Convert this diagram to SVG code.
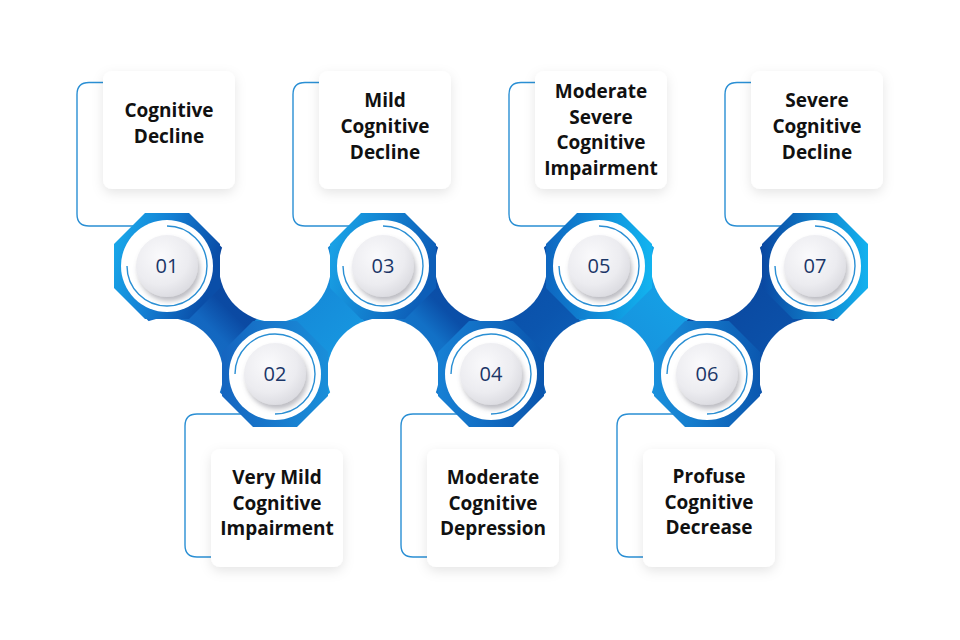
<svg xmlns="http://www.w3.org/2000/svg" xmlns:xlink="http://www.w3.org/1999/xlink" width="960" height="640" viewBox="0 0 960 640">
<defs>
<style>
.box{fill:#fff;filter:url(#bsh)}
.lbl{font-family:"Open Sans","Liberation Sans",sans-serif;font-weight:700;font-size:19px;fill:#111;text-anchor:middle}
.num{font-family:"Open Sans","Liberation Sans",sans-serif;font-weight:400;font-size:20px;fill:#1b3667;text-anchor:middle}
.ring{fill:#fff}
.btn{fill:url(#gBtn);filter:url(#btnsh)}
.con{fill:none;stroke:#2a8fd4;stroke-width:1.4}
.cut{fill:#fff}
</style>
<filter id="bsh" x="-30%" y="-30%" width="160%" height="160%">
<feDropShadow dx="0" dy="4" stdDeviation="6" flood-color="#000" flood-opacity="0.10"/>
</filter>
<filter id="btnsh" x="-40%" y="-40%" width="180%" height="180%">
<feDropShadow dx="2" dy="4" stdDeviation="2.5" flood-color="#6b6b78" flood-opacity="0.45"/>
</filter>
<radialGradient id="gBtn" cx="0.4" cy="0.35" r="0.75">
<stop offset="0" stop-color="#fafafc"/>
<stop offset="0.6" stop-color="#ececf0"/>
<stop offset="1" stop-color="#d6d6dc"/>
</radialGradient>
<polygon id="oct" points="-22,-53 22,-53 53,-22 53,22 22,53 -22,53 -53,22 -53,-22"/>
<polygon id="segD" points="36.77,-36.77 144.77,71.23 71.23,144.77 -36.77,36.77"/>
<polygon id="segU" points="36.77,36.77 144.77,-71.23 71.23,-144.77 -36.77,-36.77"/>
<!-- octagon gradients -->
<linearGradient id="o1" x1="0" y1="0" x2="1" y2="0.3"><stop offset="0" stop-color="#19aeed"/><stop offset="0.5" stop-color="#1480d4"/><stop offset="1" stop-color="#0a4ea8"/></linearGradient>
<linearGradient id="o2" x1="0" y1="0" x2="1" y2="0"><stop offset="0" stop-color="#1565c0"/><stop offset="1" stop-color="#1a8ed9"/></linearGradient>
<linearGradient id="o3" x1="0" y1="0" x2="1" y2="0.3"><stop offset="0" stop-color="#1aa8ea"/><stop offset="1" stop-color="#0d5eb8"/></linearGradient>
<linearGradient id="o4" x1="0" y1="0" x2="1" y2="0"><stop offset="0" stop-color="#1780d4"/><stop offset="1" stop-color="#0a55ad"/></linearGradient>
<linearGradient id="o5" x1="0" y1="0" x2="1" y2="0"><stop offset="0" stop-color="#0e66c0"/><stop offset="1" stop-color="#12b4f0"/></linearGradient>
<linearGradient id="o6" x1="0" y1="0" x2="1" y2="0"><stop offset="0" stop-color="#1a90dc"/><stop offset="1" stop-color="#0b58b0"/></linearGradient>
<linearGradient id="o7" x1="0" y1="0" x2="1" y2="0"><stop offset="0" stop-color="#0a48a2"/><stop offset="1" stop-color="#14b2ef"/></linearGradient>
<!-- segment gradients -->
<linearGradient id="s1" x1="0" y1="1" x2="1" y2="0"><stop offset="0" stop-color="#1a7ad0"/><stop offset="0.45" stop-color="#1367c0"/><stop offset="0.55" stop-color="#0b4aa3"/><stop offset="1" stop-color="#083e93"/></linearGradient>
<linearGradient id="s2" x1="0" y1="0" x2="1" y2="1"><stop offset="0" stop-color="#1478cc"/><stop offset="0.5" stop-color="#1690dc"/><stop offset="1" stop-color="#1aa8ea"/></linearGradient>
<linearGradient id="s3" x1="0" y1="1" x2="1" y2="0"><stop offset="0" stop-color="#1a8ad8"/><stop offset="0.45" stop-color="#1270c6"/><stop offset="0.55" stop-color="#0b4fa8"/><stop offset="1" stop-color="#0a469f"/></linearGradient>
<linearGradient id="s4" x1="0" y1="0" x2="1" y2="1"><stop offset="0" stop-color="#0a47a0"/><stop offset="0.5" stop-color="#0b55ae"/><stop offset="1" stop-color="#1272c8"/></linearGradient>
<linearGradient id="s5" x1="0" y1="1" x2="1" y2="0"><stop offset="0" stop-color="#1a82d4"/><stop offset="0.5" stop-color="#169ae2"/><stop offset="1" stop-color="#12b2ef"/></linearGradient>
<linearGradient id="s6" x1="0" y1="0" x2="1" y2="1"><stop offset="0" stop-color="#0a3f96"/><stop offset="1" stop-color="#0c5cb5"/></linearGradient>
</defs>

<rect width="960" height="640" fill="#fff"/>

<!-- chain band -->
<g id="band">
<use xlink:href="#segD" transform="translate(167,266)" fill="url(#s1)"/>
<use xlink:href="#segU" transform="translate(275,374)" fill="url(#s2)"/>
<use xlink:href="#segD" transform="translate(383,266)" fill="url(#s3)"/>
<use xlink:href="#segU" transform="translate(491,374)" fill="url(#s4)"/>
<use xlink:href="#segD" transform="translate(599,266)" fill="url(#s5)"/>
<use xlink:href="#segU" transform="translate(707,374)" fill="url(#s6)"/>
<circle class="cut" cx="275" cy="266" r="56"/>
<circle class="cut" cx="491" cy="266" r="56"/>
<circle class="cut" cx="707" cy="266" r="56"/>
<circle class="cut" cx="167" cy="374" r="56"/>
<circle class="cut" cx="383" cy="374" r="56"/>
<circle class="cut" cx="599" cy="374" r="56"/>
<circle class="cut" cx="815" cy="374" r="56"/>
</g>

<!-- connectors -->
<g id="connectors">
<path class="con" d="M103,82.5 H89 Q77,82.5 77,94.5 V214 Q77,226 89,226 H167 A40,40 0 1 1 127,266"/>
<path class="con" d="M319,82.5 H305 Q293,82.5 293,94.5 V214 Q293,226 305,226 H383 A40,40 0 1 1 343,266"/>
<path class="con" d="M535,82.5 H521 Q509,82.5 509,94.5 V214 Q509,226 521,226 H599 A40,40 0 1 1 559,266"/>
<path class="con" d="M751,82.5 H737 Q725,82.5 725,94.5 V214 Q725,226 737,226 H815 A40,40 0 1 1 775,266"/>
<path class="con" d="M235,374 A40,40 0 1 1 275,414 H197 Q185,414 185,426 V545 Q185,557 197,557 H211"/>
<path class="con" d="M451,374 A40,40 0 1 1 491,414 H413 Q401,414 401,426 V545 Q401,557 413,557 H427"/>
<path class="con" d="M667,374 A40,40 0 1 1 707,414 H629 Q617,414 617,426 V545 Q617,557 629,557 H643"/>
</g>

<!-- nodes -->
<g id="n01">
<use xlink:href="#oct" x="167" y="266" fill="url(#o1)"/>
<circle class="ring" cx="167" cy="266" r="46"/>
<path class="con" d="M167,226 A40,40 0 1 1 127,266"/>
<circle class="btn" cx="167" cy="266" r="31"/>
<text class="num" x="167" y="273">01</text>
<rect class="box" x="103" y="71" width="132" height="118" rx="9"/>
<text class="lbl" x="169" y="117">Cognitive</text>
<text class="lbl" x="169" y="143">Decline</text>
</g>

<g id="n02">
<use xlink:href="#oct" x="275" y="374" fill="url(#o2)"/>
<circle class="ring" cx="275" cy="374" r="46"/>
<path class="con" d="M235,374 A40,40 0 1 1 275,414"/>
<circle class="btn" cx="275" cy="374" r="31"/>
<text class="num" x="275" y="381">02</text>
<rect class="box" x="211" y="449" width="132" height="118" rx="9"/>
<text class="lbl" x="277" y="484">Very Mild</text>
<text class="lbl" x="277" y="509.5">Cognitive</text>
<text class="lbl" x="277" y="535">Impairment</text>
</g>

<g id="n03">
<use xlink:href="#oct" x="383" y="266" fill="url(#o3)"/>
<circle class="ring" cx="383" cy="266" r="46"/>
<path class="con" d="M383,226 A40,40 0 1 1 343,266"/>
<circle class="btn" cx="383" cy="266" r="31"/>
<text class="num" x="383" y="273">03</text>
<rect class="box" x="319" y="71" width="132" height="118" rx="9"/>
<text class="lbl" x="385" y="107">Mild</text>
<text class="lbl" x="385" y="133">Cognitive</text>
<text class="lbl" x="385" y="158.5">Decline</text>
</g>

<g id="n04">
<use xlink:href="#oct" x="491" y="374" fill="url(#o4)"/>
<circle class="ring" cx="491" cy="374" r="46"/>
<path class="con" d="M451,374 A40,40 0 1 1 491,414"/>
<circle class="btn" cx="491" cy="374" r="31"/>
<text class="num" x="491" y="381">04</text>
<rect class="box" x="427" y="449" width="132" height="118" rx="9"/>
<text class="lbl" x="493" y="484">Moderate</text>
<text class="lbl" x="493" y="509.5">Cognitive</text>
<text class="lbl" x="493" y="535">Depression</text>
</g>

<g id="n05">
<use xlink:href="#oct" x="599" y="266" fill="url(#o5)"/>
<circle class="ring" cx="599" cy="266" r="46"/>
<path class="con" d="M599,226 A40,40 0 1 1 559,266"/>
<circle class="btn" cx="599" cy="266" r="31"/>
<text class="num" x="599" y="273">05</text>
<rect class="box" x="535" y="71" width="132" height="118" rx="9"/>
<text class="lbl" x="601" y="98">Moderate</text>
<text class="lbl" x="601" y="123.5">Severe</text>
<text class="lbl" x="601" y="149">Cognitive</text>
<text class="lbl" x="601" y="174.5">Impairment</text>
</g>

<g id="n06">
<use xlink:href="#oct" x="707" y="374" fill="url(#o6)"/>
<circle class="ring" cx="707" cy="374" r="46"/>
<path class="con" d="M667,374 A40,40 0 1 1 707,414"/>
<circle class="btn" cx="707" cy="374" r="31"/>
<text class="num" x="707" y="381">06</text>
<rect class="box" x="643" y="449" width="132" height="118" rx="9"/>
<text class="lbl" x="709" y="483">Profuse</text>
<text class="lbl" x="709" y="508.5">Cognitive</text>
<text class="lbl" x="709" y="534">Decrease</text>
</g>

<g id="n07">
<use xlink:href="#oct" x="815" y="266" fill="url(#o7)"/>
<circle class="ring" cx="815" cy="266" r="46"/>
<path class="con" d="M815,226 A40,40 0 1 1 775,266"/>
<circle class="btn" cx="815" cy="266" r="31"/>
<text class="num" x="815" y="273">07</text>
<rect class="box" x="751" y="71" width="132" height="118" rx="9"/>
<text class="lbl" x="817" y="107">Severe</text>
<text class="lbl" x="817" y="133">Cognitive</text>
<text class="lbl" x="817" y="158.5">Decline</text>
</g>
</svg>
